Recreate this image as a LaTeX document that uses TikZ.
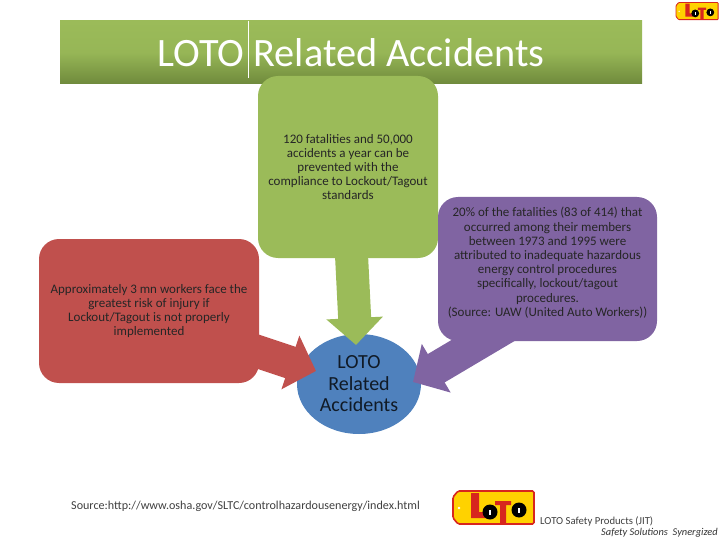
\documentclass[tikz,border=0pt]{standalone}
\usepackage{fontspec}
\setmainfont{Carlito}
\usepackage{xcolor}
\usetikzlibrary{arrows.meta,shapes.geometric,backgrounds}
\definecolor{lotogreen}{HTML}{9BBB59}
\definecolor{lotodark}{HTML}{6F8A3C}
\definecolor{lotored}{HTML}{C0504D}
\definecolor{lotopurple}{HTML}{8064A2}
\definecolor{lotoblue}{HTML}{4F81BD}
\definecolor{lotoyellow}{HTML}{FFD200}
\definecolor{lotoline}{HTML}{D7261E}
\newcommand{\lotologo}[3]{%
  \begin{scope}[shift={(#1,#2)}, x=#3pt, y=-#3pt]
    \draw[draw=lotoline, fill=lotoyellow, line width=1.6*#3 pt, rounded corners=1.5*#3 pt]
      (5,0) -- (81,0) -- (81,33) -- (5,33) -- (0,27) -- (0,6) -- cycle;
    \fill[white] (6,17) circle[radius=1.4];
    \fill[lotoline] (18,2) rectangle (26,25) (18,21) rectangle (34,27);
    \fill[lotoline] (42,10) rectangle (58,14) (47,10) rectangle (53,33);
    \foreach \cx/\cy in {37/21, 66/19} {
      \draw[black, line width=1.5*#3 pt] (\cx-4,\cy-5) arc[start angle=180, end angle=0, x radius=4, y radius=5];
      \fill[black] (\cx,\cy) circle[radius=7.5];
      \fill[white] (\cx-.7,\cy-2) rectangle (\cx+.7,\cy+3);
    }
  \end{scope}%
}
\begin{document}
\begin{tikzpicture}[
    x=1pt, y=-1pt,
    cbox/.style={
        rounded corners=20pt, align=center, inner sep=0pt,
        text=black!85, font=\fontsize{13}{14.2}\selectfont
    },
    barrow/.style={line width=33pt, -{Triangle[length=27pt,width=55pt]}}
]

\useasboundingbox (0,0) rectangle (720,540);

\node[top color=lotogreen, bottom color=lotodark, middle color=lotogreen!90!lotodark, inner sep=0pt,
      minimum width=582pt, minimum height=63pt, text=white,
      font=\fontsize{40.3}{44}\selectfont] (titlebar) at (351,52.5) {LOTO Related Accidents};
\draw[white, line width=.6pt] (248,21) -- (248,78);

\node[cbox, fill=lotogreen, minimum width=180pt, minimum height=182pt] (greenbox) at (348,167) {%
  120 fatalities and 50,000\\accidents a year can be\\prevented with the\\compliance to Lockout/Tagout\\standards};

\node[cbox, fill=lotored, minimum width=220pt, minimum height=144pt] (redbox) at (149,311) {%
  Approximately 3 mn workers face the\\greatest risk of injury if\\Lockout/Tagout is not properly\\implemented};

\node[cbox, fill=lotopurple, minimum width=219pt, minimum height=144pt] (purplebox) at (547.5,269) {%
  20\% of the fatalities (83 of 414) that\\occurred among their members\\between 1973 and 1995 were\\attributed to inadequate hazardous\\energy control procedures\\specifically, lockout/tagout\\procedures.\\(Source: UAW (United Auto Workers))\\\mbox{}};

\coordinate (greentail) at (351,245);   \coordinate (greentip) at (356,345);
\coordinate (redtail) at (235,344);     \coordinate (redtip) at (316,371);
\coordinate (purpletail) at (510,324.5);\coordinate (purpletip) at (413,382);

\begin{scope}[on background layer]
\node[ellipse, fill=lotoblue, minimum width=124pt, minimum height=100pt, inner sep=0pt, align=center,
      text=black!80!lotoblue, font=\fontsize{20}{21.5}\selectfont] (accident) at (359,384) {LOTO\\Related\\Accidents};
\draw[barrow, lotogreen] (greentail) -- (greentip);
\draw[barrow, lotored] (redtail) -- (redtip);
\draw[barrow, lotopurple] (purpletail) -- (purpletip);
\end{scope}

\node[text=black!75, anchor=west, inner sep=0pt, font=\fontsize{12.1}{14}\selectfont] (sourcelbl) at (71,506)
  {Source:http://www.osha.gov/SLTC/controlhazardousenergy/index.html};

\lotologo{453}{491}{1}
\lotologo{676}{2.5}{.52}

\node[text=black!75, anchor=west, inner sep=0pt, font=\fontsize{10.7}{12}\selectfont] (lotolbl) at (540,521)
  {LOTO Safety Products (JIT)};
\node[text=black!80, anchor=east, inner sep=0pt, font=\fontsize{10.4}{12}\selectfont\itshape] (tagline) at (718,533)
  {Safety Solutions\ \ Synergized};

\end{tikzpicture}
\end{document}
